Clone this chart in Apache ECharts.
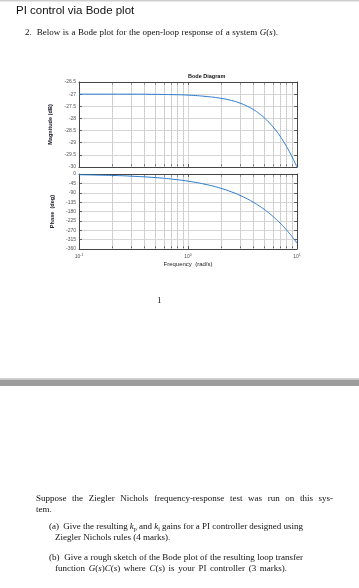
<!DOCTYPE html>
<html>
<head>
<meta charset="utf-8">
<script src="https://cdn.jsdelivr.net/npm/echarts@6/dist/echarts.min.js"></script>
<style>
html,body{margin:0;padding:0;background:#fff;}
#wrap{position:relative;width:359px;height:588px;overflow:hidden;}
#c{position:absolute;left:0;top:0;width:359px;height:588px;}
.ln{position:absolute;white-space:nowrap;font-family:"Liberation Serif","Times New Roman",serif;font-size:9px;line-height:10px;color:#111;}
.ln sub{font-size:6px;vertical-align:-1.5px;line-height:0;}
</style>
</head>
<body>
<div id="wrap">
<div id="c"></div>
<div class="ln" style="left:25px;top:27px;" data-w="253">2.&nbsp; Below is a Bode plot for the open-loop response of a system <i>G</i>(<i>s</i>).</div>
<div class="ln" style="left:157px;top:295px;">1</div>
<div class="ln" style="left:36px;top:493px;" data-w="297">Suppose the Ziegler Nichols frequency-response test was run on this sys-</div>
<div class="ln" style="left:36px;top:504px;">tem.</div>
<div class="ln" style="left:49px;top:521px;" data-w="254">(a)&nbsp; Give the resulting <i>k</i><sub>p</sub> and <i>k</i><sub>i</sub> gains for a PI controller designed using</div>
<div class="ln" style="left:55px;top:532px;">Ziegler Nichols rules (4 marks).</div>
<div class="ln" style="left:49px;top:552px;" data-w="254">(b)&nbsp; Give a rough sketch of the Bode plot of the resulting loop transfer</div>
<div class="ln" style="left:55px;top:563px;" data-w="232">function <i>G</i>(<i>s</i>)<i>C</i>(<i>s</i>) where <i>C</i>(<i>s</i>) is your PI controller (3 marks).</div>
</div>
<script>
// ---- data ----
const freq = [0.1, 0.2, 0.3, 0.5, 0.7, 1, 1.5, 2, 2.5, 3, 3.5, 4, 4.5, 5, 5.5, 6, 6.5, 7, 7.5, 8, 8.5, 9, 9.5, 10];
const magDb = [-27.0, -27.0, -27.0, -27.01, -27.02, -27.04, -27.10, -27.17, -27.26, -27.37, -27.5, -27.64, -27.8, -27.97, -28.15, -28.34, -28.53, -28.73, -28.94, -29.15, -29.36, -29.58, -29.79, -30.0];
const phaseDeg = [-3.4, -6.9, -10.3, -17.2, -24.1, -34.4, -51.5, -68.6, -85.7, -102.6, -119.6, -136.4, -153.1, -169.8, -186.4, -202.8, -219.2, -235.5, -251.7, -267.8, -283.9, -299.8, -315.7, -331.5];
const minorFreqs = [0.2, 0.3, 0.4, 0.5, 0.6, 0.7, 0.8, 0.9, 2, 3, 4, 5, 6, 7, 8, 9];
const allTickFreqs = [0.1, 0.2, 0.3, 0.4, 0.5, 0.6, 0.7, 0.8, 0.9, 1, 2, 3, 4, 5, 6, 7, 8, 9, 10];
const magTicks = {min: -30, max: -26.5, interval: 0.5};
const phaseTicks = {min: -360, max: 0, interval: 45};

// stretch word spacing so each justified line spans its measured width
document.querySelectorAll('.ln[data-w]').forEach(function (el) {
  const target = parseFloat(el.getAttribute('data-w'));
  const natural = el.getBoundingClientRect().width;
  const spaces = (el.textContent.match(/[ \u00a0]/g) || []).length;
  if (spaces > 0) el.style.wordSpacing = ((target - natural) / spaces) + 'px';
});

const chart = echarts.init(document.getElementById('c'), null, {renderer: 'canvas'});

const boxColor = '#444';
const labelColor = '#555';
const lineBlue = '#2a7bcc';
const fontFam = 'Liberation Sans, Arial, sans-serif';

function xAxisDef(gridIndex, position, showLabel, name) {
  return {
    type: 'log', logBase: 10, min: 0.1, max: 10, gridIndex: gridIndex, position: position,
    axisLine: {show: true, onZero: false, lineStyle: {color: boxColor, width: 1}},
    axisTick: {show: true, inside: true, length: 3, customValues: allTickFreqs, lineStyle: {color: boxColor, width: 0.8}},
    axisLabel: {show: showLabel, margin: 4, fontSize: 5, color: labelColor, fontFamily: fontFam,
      formatter: function (v) { const e = Math.round(Math.log10(v)); return '10{s|' + e + '}'; },
      rich: {s: {fontSize: 3.5, color: labelColor, padding: [0, 0, 3, 0]}}},
    splitLine: {show: position === 'bottom', lineStyle: {color: '#d6d6d6', width: 1}},
    name: name || '', nameLocation: 'middle', nameGap: 12,
    nameTextStyle: {fontSize: 6, color: '#222', fontFamily: fontFam}
  };
}
function yAxisDef(gridIndex, position, showLabel, ticks, name) {
  return {
    type: 'value', gridIndex: gridIndex, position: position,
    min: ticks.min, max: ticks.max, interval: ticks.interval,
    axisLine: {show: true, onZero: false, lineStyle: {color: boxColor, width: 1}},
    axisTick: {show: true, inside: true, length: 3, lineStyle: {color: boxColor, width: 0.8}},
    axisLabel: {show: showLabel, margin: 3, fontSize: 5, color: labelColor, fontFamily: fontFam},
    splitLine: {show: position === 'left', lineStyle: {color: '#d6d6d6', width: 1}},
    name: name || '', nameLocation: 'middle', nameGap: 17, nameRotate: 90,
    nameTextStyle: {fontSize: 5.6, fontWeight: 'bold', color: '#223', fontFamily: fontFam}
  };
}

const minorMark = {
  silent: true, symbol: ['none', 'none'], label: {show: false},
  lineStyle: {type: [1, 1.5], color: '#c6c6c6', width: 1},
  data: minorFreqs.map(v => ({xAxis: v}))
};

const option = {
  backgroundColor: '#fff',
  animation: false,
  grid: [
    {left: 79, top: 82, width: 218, height: 85},
    {left: 79, top: 174, width: 218, height: 75}
  ],
  xAxis: [
    xAxisDef(0, 'bottom', false),
    xAxisDef(0, 'top', false),
    xAxisDef(1, 'bottom', true, 'Frequency  (rad/s)'),
    xAxisDef(1, 'top', false)
  ],
  yAxis: [
    yAxisDef(0, 'left', true, magTicks, 'Magnitude (dB)'),
    yAxisDef(0, 'right', false, magTicks),
    yAxisDef(1, 'left', true, phaseTicks, 'Phase  (deg)'),
    yAxisDef(1, 'right', false, phaseTicks)
  ],
  series: [
    {type: 'line', xAxisIndex: 0, yAxisIndex: 0, showSymbol: false, smooth: true,
     lineStyle: {color: lineBlue, width: 1}, data: freq.map((f, i) => [f, magDb[i]]), markLine: minorMark, z: 5},
    {type: 'line', xAxisIndex: 2, yAxisIndex: 2, showSymbol: false, smooth: true,
     lineStyle: {color: lineBlue, width: 1}, data: freq.map((f, i) => [f, phaseDeg[i]]), markLine: minorMark, z: 5}
  ],
  graphic: [
    {type: 'rect', left: 0, top: 0, shape: {width: 359, height: 1.5}, style: {fill: '#cfcfcf'}},
    {type: 'text', left: 16, top: 5, style: {text: 'PI control via Bode plot', fontSize: 11.5, fill: '#111', fontFamily: fontFam}},
    {type: 'text', left: 188, top: 73, style: {text: 'Bode Diagram', fontSize: 5.5, fontWeight: 'bold', fill: '#111', fontFamily: fontFam, align: 'center'}},
    {type: 'rect', left: 0, top: 378, shape: {width: 359, height: 1.2}, style: {fill: '#d2d2d2'}},
    {type: 'rect', left: 0, top: 379.5, shape: {width: 359, height: 6.5}, style: {fill: '#9c9c9c'}}
  ]
};
chart.setOption(option);
</script>
</body>
</html>
